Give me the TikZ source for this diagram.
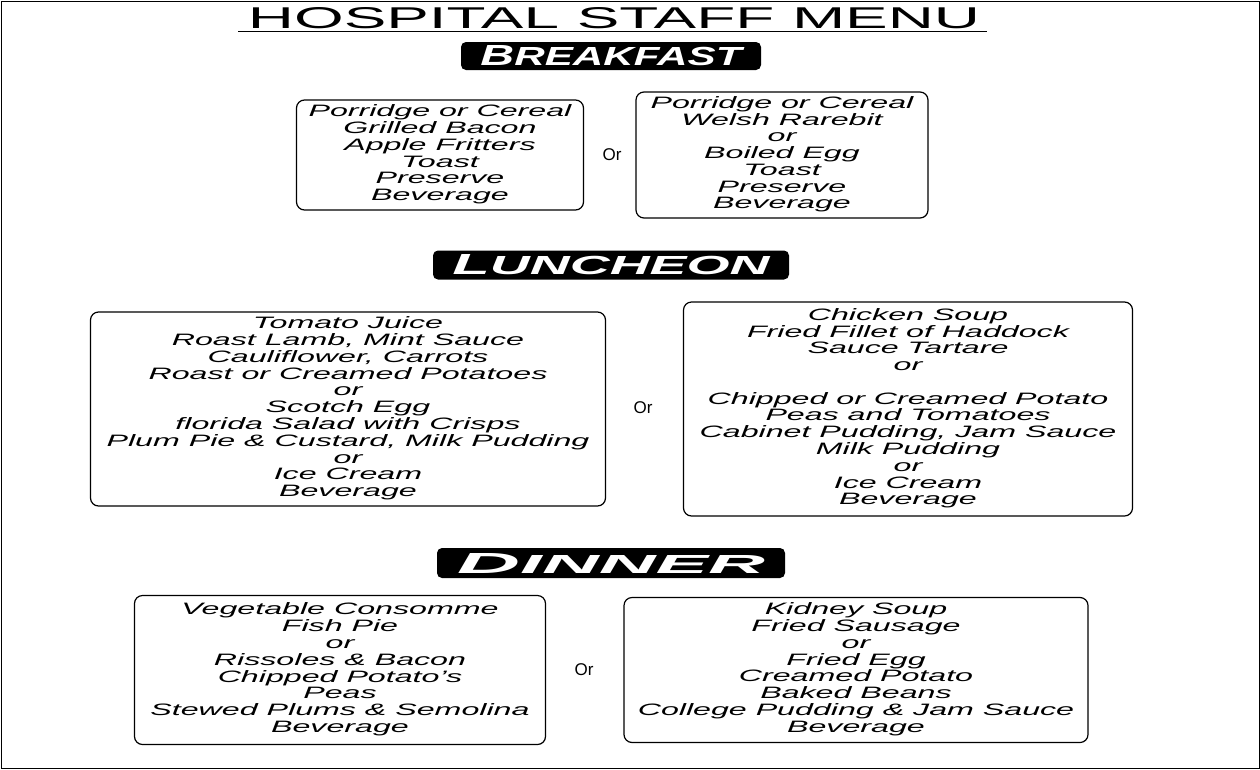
\documentclass[tikz,border=0pt]{standalone}
\usepackage{fontspec}
\usepackage{graphicx}
\setmainfont{Liberation Sans}
\begin{document}
\begin{tikzpicture}[x=1pt,y=-1pt,
  menubox/.style={draw,line width=1.2pt,rounded corners=8pt,inner sep=0pt},
  hdr/.style={fill=black,rounded corners=5pt,inner sep=0pt,text=white},
  ortext/.style={font=\fontsize{17}{17}\selectfont}]
\useasboundingbox (0,0) rectangle (1260,769);
\draw[line width=1pt] (1,1) rectangle (1259,768);
\newcommand\mtext[1]{\scalebox{1.95}[1]{\fontsize{16.5}{16.6}\selectfont\itshape\begin{tabular}{@{}c@{}}#1\end{tabular}}}
% title
\node (title) at (614,18) {\resizebox{732pt}{21pt}{HOSPITAL STAFF MENU}};
\draw[line width=1pt] (238,31) -- (987,31);
% headers
\node[hdr,minimum width=300pt,minimum height=28pt] (hb) at (611,56) {\resizebox{261pt}{20pt}{\bfseries\itshape B\fontsize{9}{9}\selectfont REAKFAST}};
\node[hdr,minimum width=356pt,minimum height=29pt] (hl) at (611,265) {\resizebox{317pt}{20pt}{\bfseries\itshape L\fontsize{9}{9}\selectfont UNCHEON}};
\node[hdr,minimum width=348pt,minimum height=30pt] (hd) at (611,563) {\resizebox{308pt}{20pt}{\bfseries\itshape D\fontsize{9}{9}\selectfont INNER}};
% breakfast
\node[menubox,minimum width=287pt,minimum height=110pt] (b1) at (440,155) {\mtext{Porridge or Cereal\\Grilled Bacon\\Apple Fritters\\Toast\\Preserve\\Beverage}};
\node[menubox,minimum width=292pt,minimum height=126pt] (b2) at (782,155) {\mtext{Porridge or Cereal\\Welsh Rarebit\\or\\Boiled Egg\\Toast\\Preserve\\Beverage}};
\node[ortext] (bo) at (612,155) {Or};
% luncheon
\node[menubox,minimum width=515pt,minimum height=194pt] (l1) at (348,409) {\mtext{Tomato Juice\\Roast Lamb, Mint Sauce\\Cauliflower, Carrots\\Roast or Creamed Potatoes\\or\\Scotch Egg\\florida Salad with Crisps\\Plum Pie \& Custard, Milk Pudding\\or\\Ice Cream\\Beverage}};
\node[menubox,minimum width=449pt,minimum height=214pt] (l2) at (908,409) {\mtext{Chicken Soup\\Fried Fillet of Haddock\\Sauce Tartare\\or\\ \\Chipped or Creamed Potato\\Peas and Tomatoes\\Cabinet Pudding, Jam Sauce\\Milk Pudding\\or\\Ice Cream\\Beverage}};
\node[ortext] (lo) at (643,408) {Or};
% dinner
\node[menubox,minimum width=411pt,minimum height=149pt] (d1) at (340,670) {\mtext{Vegetable Consomme\\Fish Pie\\or\\Rissoles \& Bacon\\Chipped Potato's\\Peas\\Stewed Plums \& Semolina\\Beverage}};
\node[menubox,minimum width=464pt,minimum height=145pt] (d2) at (856,670) {\mtext{Kidney Soup\\Fried Sausage\\or\\Fried Egg\\Creamed Potato\\Baked Beans\\College Pudding \& Jam Sauce\\Beverage}};
\node[ortext] (dox) at (584,670) {Or};
\end{tikzpicture}
\end{document}
